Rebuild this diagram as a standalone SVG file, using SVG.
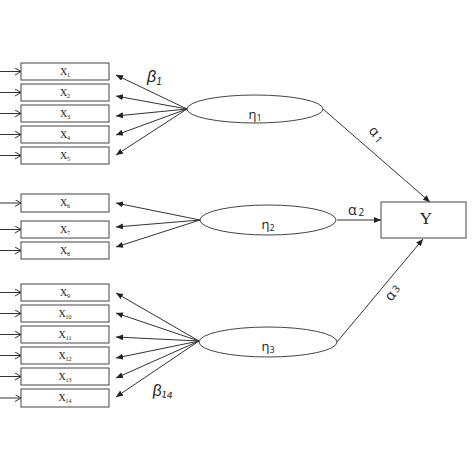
<svg xmlns="http://www.w3.org/2000/svg" width="474" height="474" viewBox="0 0 474 474">
<style>
.box{fill:#fff;stroke:#444;stroke-width:1}
.ell{fill:#fff;stroke:#444;stroke-width:1}
.fan{stroke:#333;stroke-width:1;fill:none;marker-end:url(#ah)}
.inp{stroke:#333;stroke-width:1;fill:none;marker-end:url(#oh)}
.xl{font-family:"Liberation Serif",serif;font-size:10px;fill:#222;text-anchor:middle}
.xs{font-size:6px}
.eta{font-family:"Open Sans","DejaVu Sans",sans-serif;font-size:13px;fill:#222;text-anchor:middle}
.es{font-size:9px}
.gr{font-family:"Open Sans","DejaVu Sans",sans-serif;font-size:14px;fill:#222}
.gb{font-family:"Liberation Sans","DejaVu Sans",sans-serif;font-size:16px;fill:#222}
.gs{font-size:10px}
.y{font-family:"Liberation Serif",serif;font-size:17px;fill:#222;text-anchor:middle}
</style>
<defs>
<marker id="ah" markerUnits="userSpaceOnUse" markerWidth="8" markerHeight="8" refX="7" refY="3" orient="auto">
<path d="M0,0 L7,3 L0,6 Z" fill="#222"/>
</marker>
<marker id="oh" markerUnits="userSpaceOnUse" markerWidth="8" markerHeight="8" refX="6" refY="3.5" orient="auto">
<path d="M0,0 L6,3.5 L0,7" fill="none" stroke="#333" stroke-width="1"/>
</marker>
</defs>
<g id="connectors">
<line class="inp" x1="0" y1="71.5" x2="21" y2="71.5"/>
<line class="inp" x1="0" y1="92.5" x2="21" y2="92.5"/>
<line class="inp" x1="0" y1="113.5" x2="21" y2="113.5"/>
<line class="inp" x1="0" y1="134.5" x2="21" y2="134.5"/>
<line class="inp" x1="0" y1="155.5" x2="21" y2="155.5"/>
<line class="inp" x1="0" y1="203" x2="21" y2="203"/>
<line class="inp" x1="0" y1="229.5" x2="21" y2="229.5"/>
<line class="inp" x1="0" y1="250.5" x2="21" y2="250.5"/>
<line class="inp" x1="0" y1="292.5" x2="21" y2="292.5"/>
<line class="inp" x1="0" y1="313.5" x2="21" y2="313.5"/>
<line class="inp" x1="0" y1="334.5" x2="21" y2="334.5"/>
<line class="inp" x1="0" y1="355.5" x2="21" y2="355.5"/>
<line class="inp" x1="0" y1="376.5" x2="21" y2="376.5"/>
<line class="inp" x1="0" y1="398" x2="21" y2="398"/>
<line class="fan" x1="187" y1="109" x2="116" y2="75"/>
<line class="fan" x1="187" y1="109" x2="116" y2="96"/>
<line class="fan" x1="187" y1="109" x2="116" y2="116"/>
<line class="fan" x1="187" y1="109" x2="116" y2="135"/>
<line class="fan" x1="187" y1="109" x2="116" y2="155"/>
<line class="fan" x1="200" y1="220" x2="116" y2="203"/>
<line class="fan" x1="200" y1="220" x2="116" y2="227"/>
<line class="fan" x1="200" y1="220" x2="116" y2="247"/>
<line class="fan" x1="199" y1="341" x2="116" y2="293"/>
<line class="fan" x1="199" y1="341" x2="116" y2="313"/>
<line class="fan" x1="199" y1="341" x2="116" y2="337"/>
<line class="fan" x1="199" y1="341" x2="116" y2="358"/>
<line class="fan" x1="199" y1="341" x2="116" y2="378"/>
<line class="fan" x1="199" y1="341" x2="116" y2="397"/>
<line class="fan" x1="323" y1="109" x2="430" y2="202"/>
<line class="fan" x1="337" y1="220" x2="381" y2="220"/>
<line class="fan" x1="337" y1="342" x2="423" y2="239"/>
</g>
<g id="X1"><rect class="box" x="21" y="63" width="88" height="17"/><text class="xl" x="65" y="75">X<tspan class="xs" dy="1.5">1</tspan></text></g>
<g id="X2"><rect class="box" x="21" y="84" width="88" height="17"/><text class="xl" x="65" y="96">X<tspan class="xs" dy="1.5">2</tspan></text></g>
<g id="X3"><rect class="box" x="21" y="105" width="88" height="17"/><text class="xl" x="65" y="117">X<tspan class="xs" dy="1.5">3</tspan></text></g>
<g id="X4"><rect class="box" x="21" y="126" width="88" height="17"/><text class="xl" x="65" y="138">X<tspan class="xs" dy="1.5">4</tspan></text></g>
<g id="X5"><rect class="box" x="21" y="147" width="88" height="17"/><text class="xl" x="65" y="159">X<tspan class="xs" dy="1.5">5</tspan></text></g>
<g id="X6"><rect class="box" x="21" y="194" width="88" height="18"/><text class="xl" x="65" y="206">X<tspan class="xs" dy="1.5">6</tspan></text></g>
<g id="X7"><rect class="box" x="21" y="221" width="88" height="17"/><text class="xl" x="65" y="233">X<tspan class="xs" dy="1.5">7</tspan></text></g>
<g id="X8"><rect class="box" x="21" y="242" width="88" height="17"/><text class="xl" x="65" y="254">X<tspan class="xs" dy="1.5">8</tspan></text></g>
<g id="X9"><rect class="box" x="21" y="284" width="88" height="17"/><text class="xl" x="65" y="296">X<tspan class="xs" dy="1.5">9</tspan></text></g>
<g id="X10"><rect class="box" x="21" y="305" width="88" height="17"/><text class="xl" x="65" y="317">X<tspan class="xs" dy="1.5">10</tspan></text></g>
<g id="X11"><rect class="box" x="21" y="326" width="88" height="17"/><text class="xl" x="65" y="338">X<tspan class="xs" dy="1.5">11</tspan></text></g>
<g id="X12"><rect class="box" x="21" y="347" width="88" height="17"/><text class="xl" x="65" y="359">X<tspan class="xs" dy="1.5">12</tspan></text></g>
<g id="X13"><rect class="box" x="21" y="368" width="88" height="17"/><text class="xl" x="65" y="380">X<tspan class="xs" dy="1.5">13</tspan></text></g>
<g id="X14"><rect class="box" x="21" y="389" width="88" height="18"/><text class="xl" x="65" y="401">X<tspan class="xs" dy="1.5">14</tspan></text></g>
<g id="eta1"><ellipse class="ell" cx="255" cy="109" rx="68" ry="14"/><text class="eta" x="255" y="119">η<tspan class="es" dy="2">1</tspan></text></g>
<g id="eta2"><ellipse class="ell" cx="268" cy="220" rx="68" ry="15"/><text class="eta" x="268" y="229">η<tspan class="es" dy="2">2</tspan></text></g>
<g id="eta3"><ellipse class="ell" cx="268" cy="342" rx="69" ry="15"/><text class="eta" x="268" y="351">η<tspan class="es" dy="2">3</tspan></text></g>
<g id="Y"><rect class="box" x="381" y="202" width="85" height="36"/><text class="y" x="426" y="224">Y</text></g>
<g id="labels">
<text class="gb" x="147" y="82" font-style="italic">β<tspan class="gs" dy="3">1</tspan></text>
<text class="gb" transform="translate(152,395) rotate(8)">β<tspan class="gs" dy="1">14</tspan></text>
<text class="gr" transform="translate(368,131) rotate(50)">α<tspan class="gs" dx="2" dy="1">1</tspan></text>
<text class="gr" x="348" y="215">α<tspan class="gs" dx="2" dy="1">2</tspan></text>
<text class="gr" transform="translate(391,302) rotate(-50)">α<tspan class="gs" dx="2" dy="-1">3</tspan></text>
</g>
</svg>
